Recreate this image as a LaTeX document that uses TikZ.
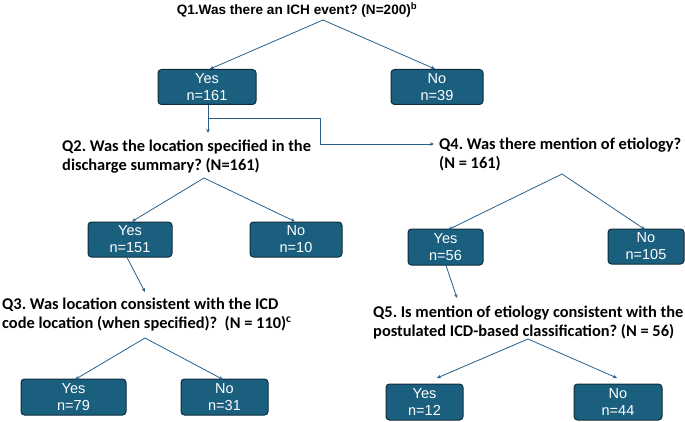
\documentclass[tikz,border=0pt]{standalone}
\usepackage{fontspec}
\setmainfont{Liberation Sans}
\newfontfamily\qfont{Carlito}
\newfontfamily\qafont{Liberation Sans}
\usetikzlibrary{arrows.meta}
\definecolor{boxfill}{RGB}{27,95,127}
\definecolor{boxline}{RGB}{14,44,60}
\definecolor{arrowc}{RGB}{40,96,138}
\frenchspacing
\tikzset{
  ansbox/.style={draw=boxline, fill=boxfill, line width=1pt, rounded corners=3.5pt,
    text=white, align=center, inner sep=0pt,
    font=\fontsize{14.5}{17}\selectfont\qafont},
  qtext/.style={align=left, inner sep=0pt, anchor=west,
    font=\fontsize{16.4}{19}\selectfont\qfont\bfseries},
  conn/.style={draw=arrowc, line width=0.8pt, -{Stealth[length=4pt,width=3.5pt]}}
}
\begin{document}
\begin{tikzpicture}[x=1pt,y=-1pt]
\useasboundingbox (0,0) rectangle (685,422);
% Q1
\node[inner sep=0pt, font=\fontsize{13.6}{16}\selectfont\qafont\bfseries] (q1) at (297,10) {Q1.Was there an ICH event? (N=200)\textsuperscript{b}};
\coordinate (a1) at (323,20);
\node[ansbox, minimum width=98pt, minimum height=35pt] (yes1) at (207,87) {Yes\\n=161};
\node[ansbox, minimum width=92pt, minimum height=35pt] (no1) at (437,87) {No\\n=39};
\draw[conn] (a1) -- ([xshift=3pt]yes1.north);
\draw[conn] (a1) -- ([xshift=-2pt]no1.north);
% Q2
\node[qtext] (q2) at (62,156.5) {Q2. Was the location specified in the\\discharge summary? (N=161)};
\coordinate (q2in) at (208,133);
\coordinate (split) at (208,118);
\coordinate (a2) at (204,178);
\draw[conn] ([xshift=1pt]yes1.south) -- (q2in);
% Q4
\node[qtext] (q4) at (439,154) {Q4. Was there mention of etiology?\\(N = 161)};
\coordinate (q4in) at (434,144);
\draw[conn] (split) -- (320,118) -- (320,144) -- (q4in);
\coordinate (a4) at (562,174);
% Q2 answers
\node[ansbox, minimum width=84pt, minimum height=35pt] (yes2) at (130,239.5) {Yes\\n=151};
\node[ansbox, minimum width=92pt, minimum height=35pt] (no2) at (296,239.5) {No\\n=10};
\draw[conn] (a2) -- ([xshift=2pt]yes2.north);
\draw[conn] (a2) -- ([xshift=-1pt]no2.north);
% Q4 answers
\node[ansbox, minimum width=75pt, minimum height=36pt] (yes4) at (445.5,247) {Yes\\n=56};
\node[ansbox, minimum width=76pt, minimum height=35pt] (no4) at (646,246.5) {No\\n=105};
\draw[conn] (a4) -- ([xshift=3pt,yshift=-1pt]yes4.north);
\draw[conn] (a4) -- ([xshift=-1pt,yshift=-1pt]no4.north);
% Q3
\node[qtext] (q3) at (2,314.5) {Q3. Was location consistent with the ICD\\code location (when specified)?\ \ (N = 110)\textsuperscript{c}};
\coordinate (q3in) at (145,292);
\draw[conn] ([xshift=-3pt]yes2.south) -- (q3in);
\coordinate (a3) at (145,338);
\node[ansbox, minimum width=105pt, minimum height=36pt] (yes3) at (73.5,397) {Yes\\n=79};
\node[ansbox, minimum width=87pt, minimum height=36pt] (no3) at (224.5,397) {No\\n=31};
\draw[conn] (a3) -- ([xshift=1.5pt,yshift=-1pt]yes3.north);
\draw[conn] (a3) -- ([xshift=-1.5pt,yshift=-1pt]no3.north);
% Q5
\node[qtext] (q5) at (373,322.5) {Q5. Is mention of etiology consistent with the\\postulated ICD-based classification? (N = 56)};
\coordinate (q5in) at (457,298);
\draw[conn] ([xshift=0.5pt]yes4.south) -- (q5in);
\coordinate (a5) at (528,339);
\coordinate (y5in) at (437,378);
\coordinate (n5in) at (617,378);
\node[ansbox, minimum width=77pt, minimum height=36pt] (yes5) at (424.5,402) {Yes\\n=12};
\node[ansbox, minimum width=88pt, minimum height=36pt] (no5) at (618,402) {No\\n=44};
\draw[conn] (a5) -- (y5in);
\draw[conn] (a5) -- (n5in);
\end{tikzpicture}
\end{document}
